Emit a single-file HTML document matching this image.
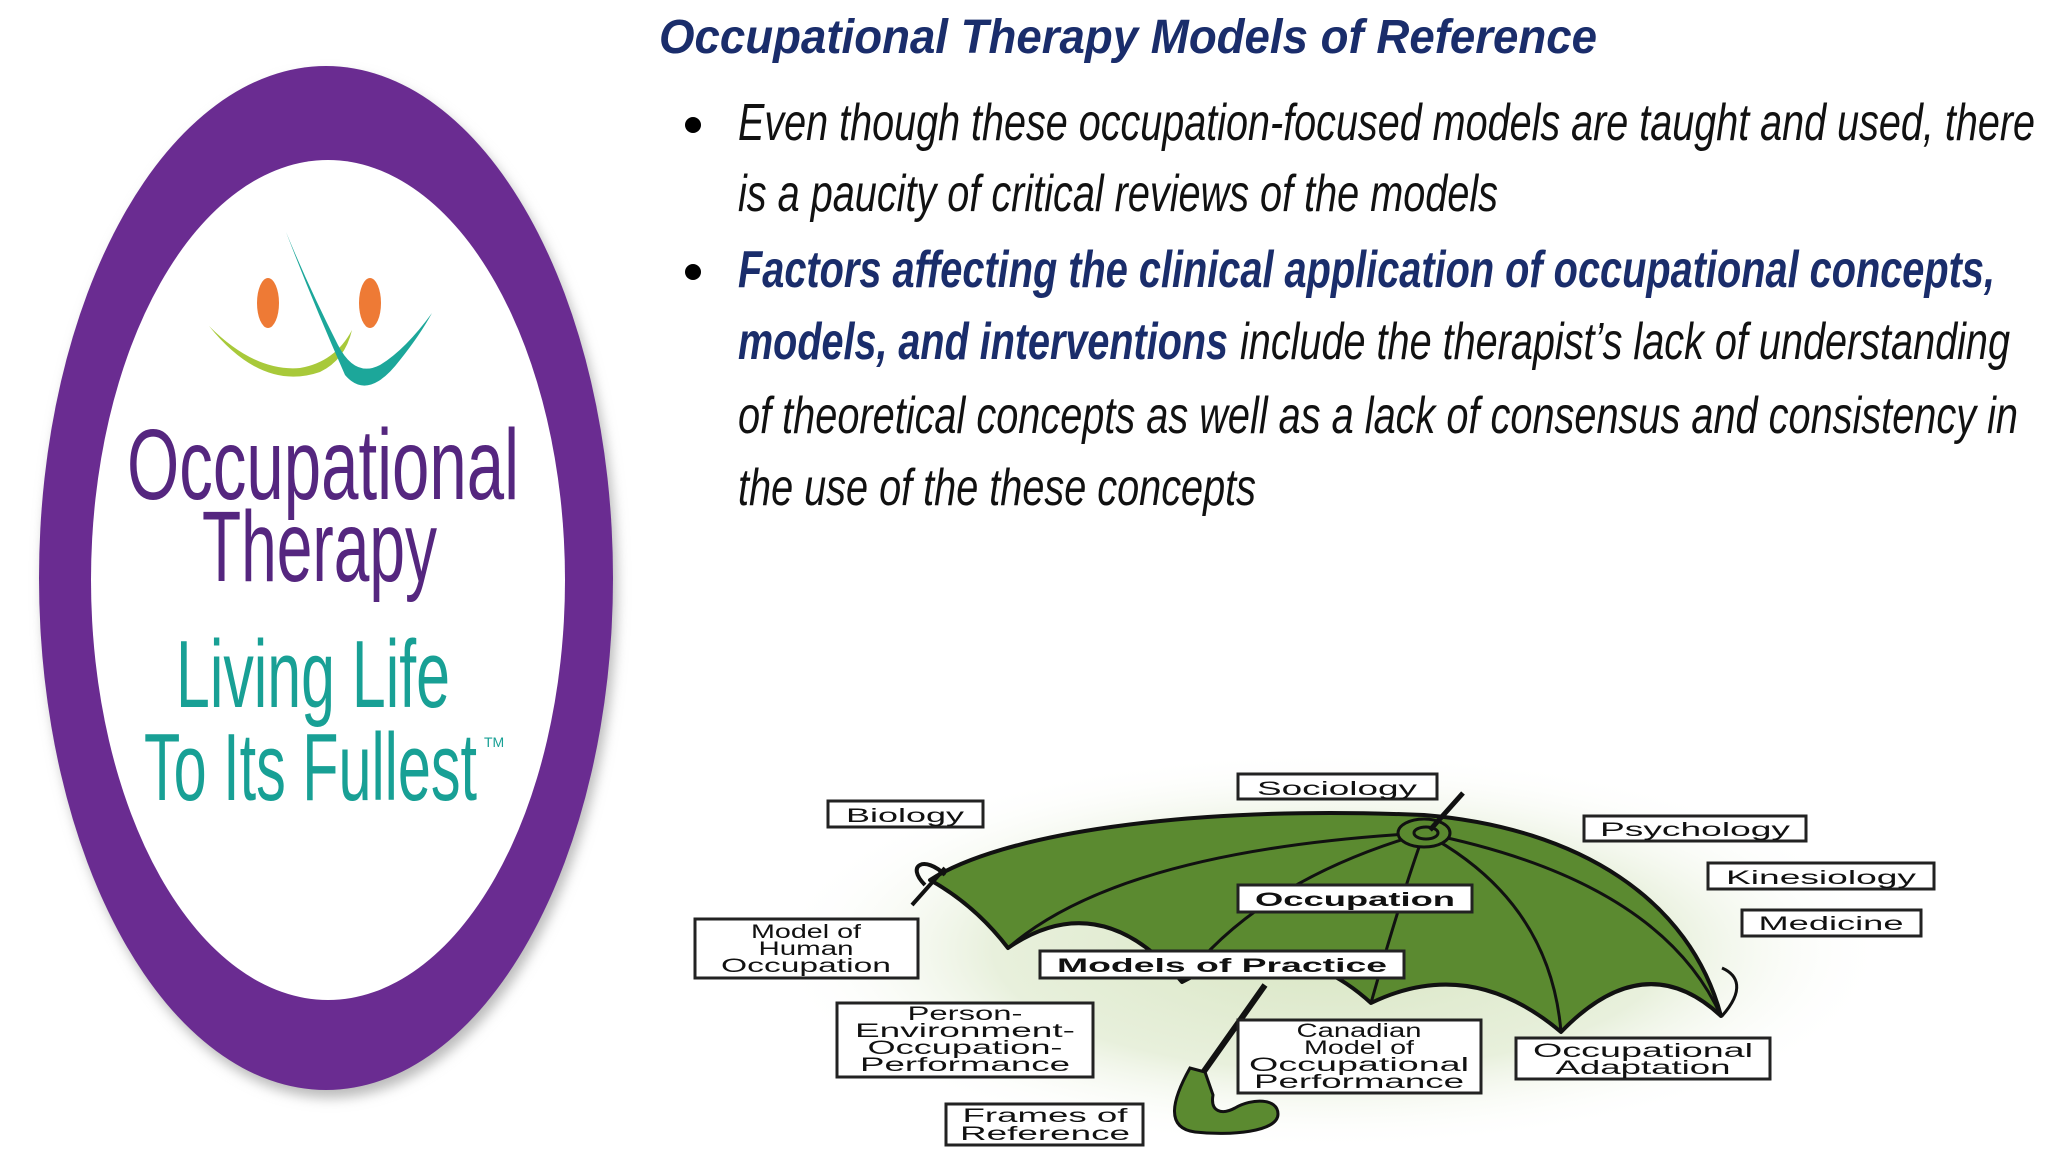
<!DOCTYPE html>
<html><head><meta charset="utf-8"><style>
html,body{margin:0;padding:0;background:#fff;width:2048px;height:1152px;overflow:hidden;}
svg{display:block;}
.t{font-family:"Liberation Sans",Arial,sans-serif;font-style:italic;}
.b{font-family:"Liberation Sans",Arial,sans-serif;font-size:19px;fill:#111;}
</style></head><body>
<svg width="2048" height="1152" viewBox="0 0 2048 1152" xmlns="http://www.w3.org/2000/svg">
<defs>
<radialGradient id="glow" cx="50%" cy="50%" r="50%">
<stop offset="0" stop-color="#d9e6c4"/><stop offset="0.6" stop-color="#e8f0dc"/><stop offset="1" stop-color="#ffffff" stop-opacity="0"/>
</radialGradient>
<filter id="sh" x="-10%" y="-10%" width="120%" height="120%"><feGaussianBlur stdDeviation="6"/></filter>
<clipPath id="frame"><rect width="2048" height="1152"/></clipPath>
</defs>
<g clip-path="url(#frame)">
<rect width="2048" height="1152" fill="#fff"/>

<!-- Logo -->
<ellipse cx="330" cy="586" rx="287" ry="512" fill="#bbb" filter="url(#sh)"/>
<ellipse cx="326" cy="578" rx="287" ry="512" fill="#6a2c91"/>
<ellipse cx="328" cy="580" rx="237" ry="420" fill="#fff"/>
<path d="M209,326 Q262,392 320,372 Q345,360 352,330 Q335,362 300,368 Q255,372 209,326Z" fill="#a8c93a"/>
<path d="M286,232 Q312,300 345,375 Q368,402 400,360 Q420,335 432,313 Q405,350 380,365 Q355,378 338,345 Q310,290 286,232Z" fill="#1ca79a"/>
<ellipse cx="268" cy="303" rx="11" ry="25" fill="#ee7a35"/>
<ellipse cx="370" cy="303" rx="11" ry="25" fill="#ee7a35"/>
<g font-family="'Liberation Sans',Arial,sans-serif">
<text x="127" y="499" font-size="100" fill="#55267f" textLength="392" lengthAdjust="spacingAndGlyphs">Occupational</text>
<text x="202" y="581" font-size="100" fill="#55267f" textLength="235" lengthAdjust="spacingAndGlyphs">Therapy</text>
<text x="176" y="707" font-size="96" fill="#18a095" textLength="274" lengthAdjust="spacingAndGlyphs">Living Life</text>
<text x="144" y="800" font-size="96" fill="#18a095" textLength="333" lengthAdjust="spacingAndGlyphs">To Its Fullest</text>
<text x="484" y="747" font-size="14" fill="#18a095">TM</text>
</g>

<!-- Title and bullets -->
<text class="t" x="659" y="53" font-size="48" font-weight="bold" fill="#1a2d6b" textLength="938" lengthAdjust="spacingAndGlyphs">Occupational Therapy Models of Reference</text>
<circle cx="693" cy="125" r="8" fill="#000"/>
<circle cx="693" cy="272" r="8" fill="#000"/>
<g class="t" font-size="52" fill="#111">
<text x="738" y="140" textLength="1297" lengthAdjust="spacingAndGlyphs">Even though these occupation-focused models are taught and used, there</text>
<text x="738" y="211" textLength="760" lengthAdjust="spacingAndGlyphs">is a paucity of critical reviews of the models</text>
<text x="738" y="287" font-weight="bold" fill="#1a2d6b" textLength="1257" lengthAdjust="spacingAndGlyphs">Factors affecting the clinical application of occupational concepts,</text>
<text x="738" y="359" font-weight="bold" fill="#1a2d6b" textLength="490" lengthAdjust="spacingAndGlyphs">models, and interventions</text>
<text x="1240" y="359" textLength="770" lengthAdjust="spacingAndGlyphs">include the therapist’s lack of understanding</text>
<text x="738" y="433" textLength="1280" lengthAdjust="spacingAndGlyphs">of theoretical concepts as well as a lack of consensus and consistency in</text>
<text x="738" y="505" textLength="518" lengthAdjust="spacingAndGlyphs">the use of the these concepts</text>
</g>

<!-- Umbrella glow -->
<ellipse cx="1330" cy="950" rx="560" ry="200" fill="url(#glow)"/>

<!-- Umbrella canopy -->
<path d="M930,880 C1000,835 1180,805 1424,815 C1580,828 1690,900 1721,1016
 Q1645,945 1561,1032 Q1470,955 1371,1003 Q1285,925 1182,982 Q1100,885 1008,948 Q975,905 930,880Z"
 fill="#5b8a30" stroke="#111" stroke-width="4" stroke-linejoin="round"/>
<g fill="none" stroke="#111" stroke-width="3">
<path d="M1424,833 Q1120,850 1008,948"/>
<path d="M1424,833 Q1260,880 1182,982"/>
<path d="M1424,833 Q1400,900 1371,1003"/>
<path d="M1424,833 Q1550,900 1561,1032"/>
<path d="M1424,833 Q1660,880 1721,1016"/>
<path d="M925,885 C905,865 925,855 945,875" stroke-width="4"/>
<path d="M912,905 L945,868" stroke-width="4"/>
<path d="M1722,1016 C1745,990 1738,975 1722,968" stroke-width="3"/>
</g>
<ellipse cx="1424" cy="833" rx="26" ry="14" fill="#5b8a30" stroke="#111" stroke-width="3"/>
<ellipse cx="1426" cy="833" rx="12" ry="6" fill="none" stroke="#111" stroke-width="3"/>
<line x1="1430" y1="830" x2="1463" y2="793" stroke="#111" stroke-width="5"/>
<!-- handle -->
<line x1="1265" y1="985" x2="1195" y2="1084" stroke="#111" stroke-width="6"/>
<path d="M1190,1068 C1172,1100 1165,1128 1195,1132 C1230,1136 1278,1132 1278,1114 C1278,1098 1252,1098 1235,1108 C1222,1115 1210,1112 1213,1095 L1205,1072Z" fill="#5b8a30" stroke="#111" stroke-width="3"/>

<!-- Boxes -->
<g fill="#fff" stroke="#222" stroke-width="3">
<rect x="1238" y="774" width="199" height="25"/>
<rect x="828" y="801" width="155" height="26"/>
<rect x="1584" y="816" width="222" height="25"/>
<rect x="1708" y="863" width="226" height="26"/>
<rect x="1742" y="910" width="179" height="26"/>
<rect x="1238" y="885" width="234" height="27"/>
<rect x="695" y="919" width="223" height="59"/>
<rect x="1040" y="951" width="364" height="27"/>
<rect x="837" y="1003" width="256" height="74"/>
<rect x="1238" y="1020" width="243" height="73"/>
<rect x="1516" y="1038" width="254" height="41"/>
<rect x="946" y="1104" width="197" height="41"/>
</g>
<g class="b" text-anchor="middle">
<text x="1337" y="795" textLength="160" lengthAdjust="spacingAndGlyphs">Sociology</text>
<text x="905" y="822" textLength="118" lengthAdjust="spacingAndGlyphs">Biology</text>
<text x="1695" y="836" textLength="190" lengthAdjust="spacingAndGlyphs">Psychology</text>
<text x="1821" y="884" textLength="190" lengthAdjust="spacingAndGlyphs">Kinesiology</text>
<text x="1831" y="930" textLength="145" lengthAdjust="spacingAndGlyphs">Medicine</text>
<text x="1355" y="906" font-weight="bold" textLength="200" lengthAdjust="spacingAndGlyphs">Occupation</text>
<text x="806" y="938" textLength="110" lengthAdjust="spacingAndGlyphs">Model of</text>
<text x="806" y="955" textLength="95" lengthAdjust="spacingAndGlyphs">Human</text>
<text x="806" y="972" textLength="170" lengthAdjust="spacingAndGlyphs">Occupation</text>
<text x="1222" y="972" font-weight="bold" textLength="330" lengthAdjust="spacingAndGlyphs">Models of Practice</text>
<text x="965" y="1020" textLength="115" lengthAdjust="spacingAndGlyphs">Person-</text>
<text x="965" y="1037" textLength="220" lengthAdjust="spacingAndGlyphs">Environment-</text>
<text x="965" y="1054" textLength="195" lengthAdjust="spacingAndGlyphs">Occupation-</text>
<text x="965" y="1071" textLength="210" lengthAdjust="spacingAndGlyphs">Performance</text>
<text x="1359" y="1037" textLength="125" lengthAdjust="spacingAndGlyphs">Canadian</text>
<text x="1359" y="1054" textLength="110" lengthAdjust="spacingAndGlyphs">Model of</text>
<text x="1359" y="1071" textLength="220" lengthAdjust="spacingAndGlyphs">Occupational</text>
<text x="1359" y="1088" textLength="210" lengthAdjust="spacingAndGlyphs">Performance</text>
<text x="1643" y="1057" textLength="220" lengthAdjust="spacingAndGlyphs">Occupational</text>
<text x="1643" y="1074" textLength="175" lengthAdjust="spacingAndGlyphs">Adaptation</text>
<text x="1045" y="1122" textLength="165" lengthAdjust="spacingAndGlyphs">Frames of</text>
<text x="1045" y="1140" textLength="170" lengthAdjust="spacingAndGlyphs">Reference</text>
</g>
</g>
</svg>
</body></html>
